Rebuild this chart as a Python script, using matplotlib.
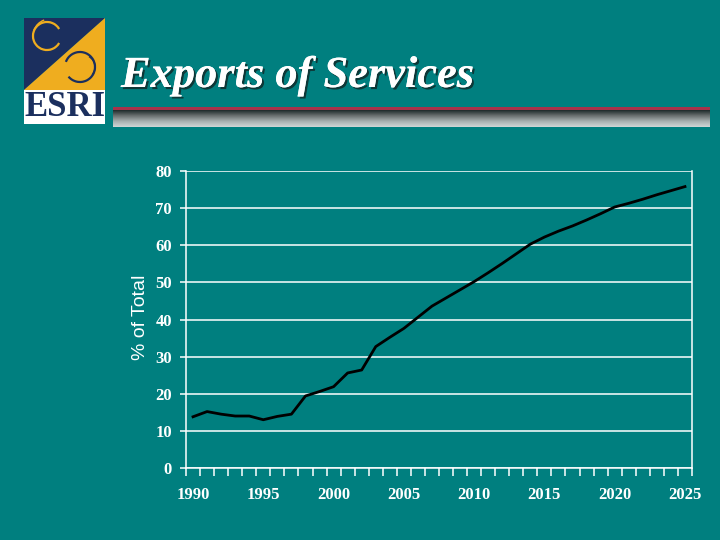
import numpy as np
import matplotlib
matplotlib.use("Agg")
import matplotlib.pyplot as plt
from matplotlib.patches import Polygon, Rectangle, Arc
import matplotlib.patheffects as pe
from matplotlib.colors import LinearSegmentedColormap

years = list(range(1990, 2026))
share = [13.8, 15.2, 14.5, 14.0, 14.0, 13.0, 13.9, 14.5, 19.4, 20.6,
         21.9, 25.6, 26.4, 32.7, 35.2, 37.6, 40.6, 43.6, 45.8, 48.0,
         50.2, 52.6, 55.1, 57.7, 60.3, 62.2, 63.8, 65.2, 66.8, 68.5,
         70.3, 71.3, 72.4, 73.6, 74.7, 75.8]
ytick_vals = [0, 10, 20, 30, 40, 50, 60, 70, 80]
xlabel_years = [1990, 1995, 2000, 2005, 2010, 2015, 2020, 2025]

BG = "#007f7f"
W, H = 720, 540
fig = plt.figure(figsize=(7.2, 5.4), dpi=100, facecolor=BG)

# overlay axes in pixel coordinates for header graphics
ov = fig.add_axes([0, 0, 1, 1])
ov.axis("off")
ov.patch.set_alpha(0)

# logo
lx0, lx1, ly0, ly1, lmid = 24, 105, 18, 124, 90
ov.add_patch(Rectangle((lx0, lmid), lx1 - lx0, ly1 - lmid, facecolor="white", edgecolor="none"))
ov.add_patch(Polygon([(lx0, ly0), (lx1, ly0), (lx0, lmid)], closed=True, facecolor="#1b2f5e", edgecolor="none"))
ov.add_patch(Polygon([(lx1, ly0), (lx1, lmid), (lx0, lmid)], closed=True, facecolor="#efad1f", edgecolor="none"))
ov.add_patch(Arc((47, 36), 28, 28, theta1=30, theta2=330, color="#efad1f", lw=1.6))
ov.add_patch(Arc((50, 36), 34, 34, theta1=200, theta2=250, color="#efad1f", lw=1.0))
ov.add_patch(Arc((80, 67), 30, 30, theta1=200, theta2=140 + 360, color="#1b2f5e", lw=1.6))
ov.add_patch(Arc((83, 67), 24, 24, theta1=-60, theta2=40, color="#1b2f5e", lw=1.0))
ov.text((lx0 + lx1) / 2, 108, "ESRI", ha="center", va="center", color="#1b2f5e",
        fontsize=25, fontweight="bold", family="Liberation Serif")

# title
ov.text(121, 76, "Exports of Services", ha="left", va="center", color="white",
        fontsize=32, fontweight="bold", fontstyle="italic", family="Liberation Serif",
        path_effects=[pe.withSimplePatchShadow(offset=(1.5, -1.5), shadow_rgbFace="#103030", alpha=0.9), pe.Normal()])

# red rule and gradient bar
ov.add_patch(Rectangle((113, 106.5), 597, 3, facecolor="#a8324a", edgecolor="none"))
grad = np.linspace(0, 1, 64).reshape(-1, 1)
cm = LinearSegmentedColormap.from_list("g", ["#1e2a2a", "#6a7070", "#a8b0b0", "#d0d6d6"])
ov.imshow(grad, extent=(113, 710, 127, 110), aspect="auto", cmap=cm, zorder=1)
ov.set_xlim(0, W)
ov.set_ylim(H, 0)

# chart
pl, pr, pt, pb = 186, 692, 171, 468
ax = fig.add_axes([pl / W, 1 - pb / H, (pr - pl) / W, (pb - pt) / H])
ax.set_facecolor(BG)
x = np.arange(len(years))
ax.plot(x, share, color="black", lw=2.0, solid_joinstyle="round")
ax.set_xlim(-0.5, len(years) - 0.5)
ax.set_ylim(0, 80)
ax.set_yticks(ytick_vals)
ax.set_yticklabels([str(v) for v in ytick_vals], color="white", fontsize=12,
                   fontweight="bold", family="Liberation Serif")
ax.grid(axis="y", color="white", lw=1.1)
ax.set_axisbelow(True)
pos = [years.index(y) for y in xlabel_years]
ax.set_xticks(pos)
ax.set_xticklabels([str(y) for y in xlabel_years], color="white", fontsize=12,
                   fontweight="bold", family="Liberation Serif")
ax.tick_params(axis="x", which="major", length=0, pad=14)
ax.set_xticks(np.arange(-0.5, len(years)), minor=True)
ax.tick_params(axis="x", which="minor", length=6, color="white", width=1.1, direction="out")
ax.tick_params(axis="y", which="major", length=4, color="white", width=1.1, pad=6)
for s in ["left", "right", "bottom"]:
    ax.spines[s].set_color("white")
    ax.spines[s].set_linewidth(1.1)
ax.spines["top"].set_visible(False)
ax.set_ylabel("% of Total", color="white", fontsize=14, family="Liberation Sans")
ax.yaxis.set_label_coords((149 - pl) / (pr - pl), (pb - 317) / (pb - pt))

fig.savefig("out.png", dpi=100, facecolor=BG)
